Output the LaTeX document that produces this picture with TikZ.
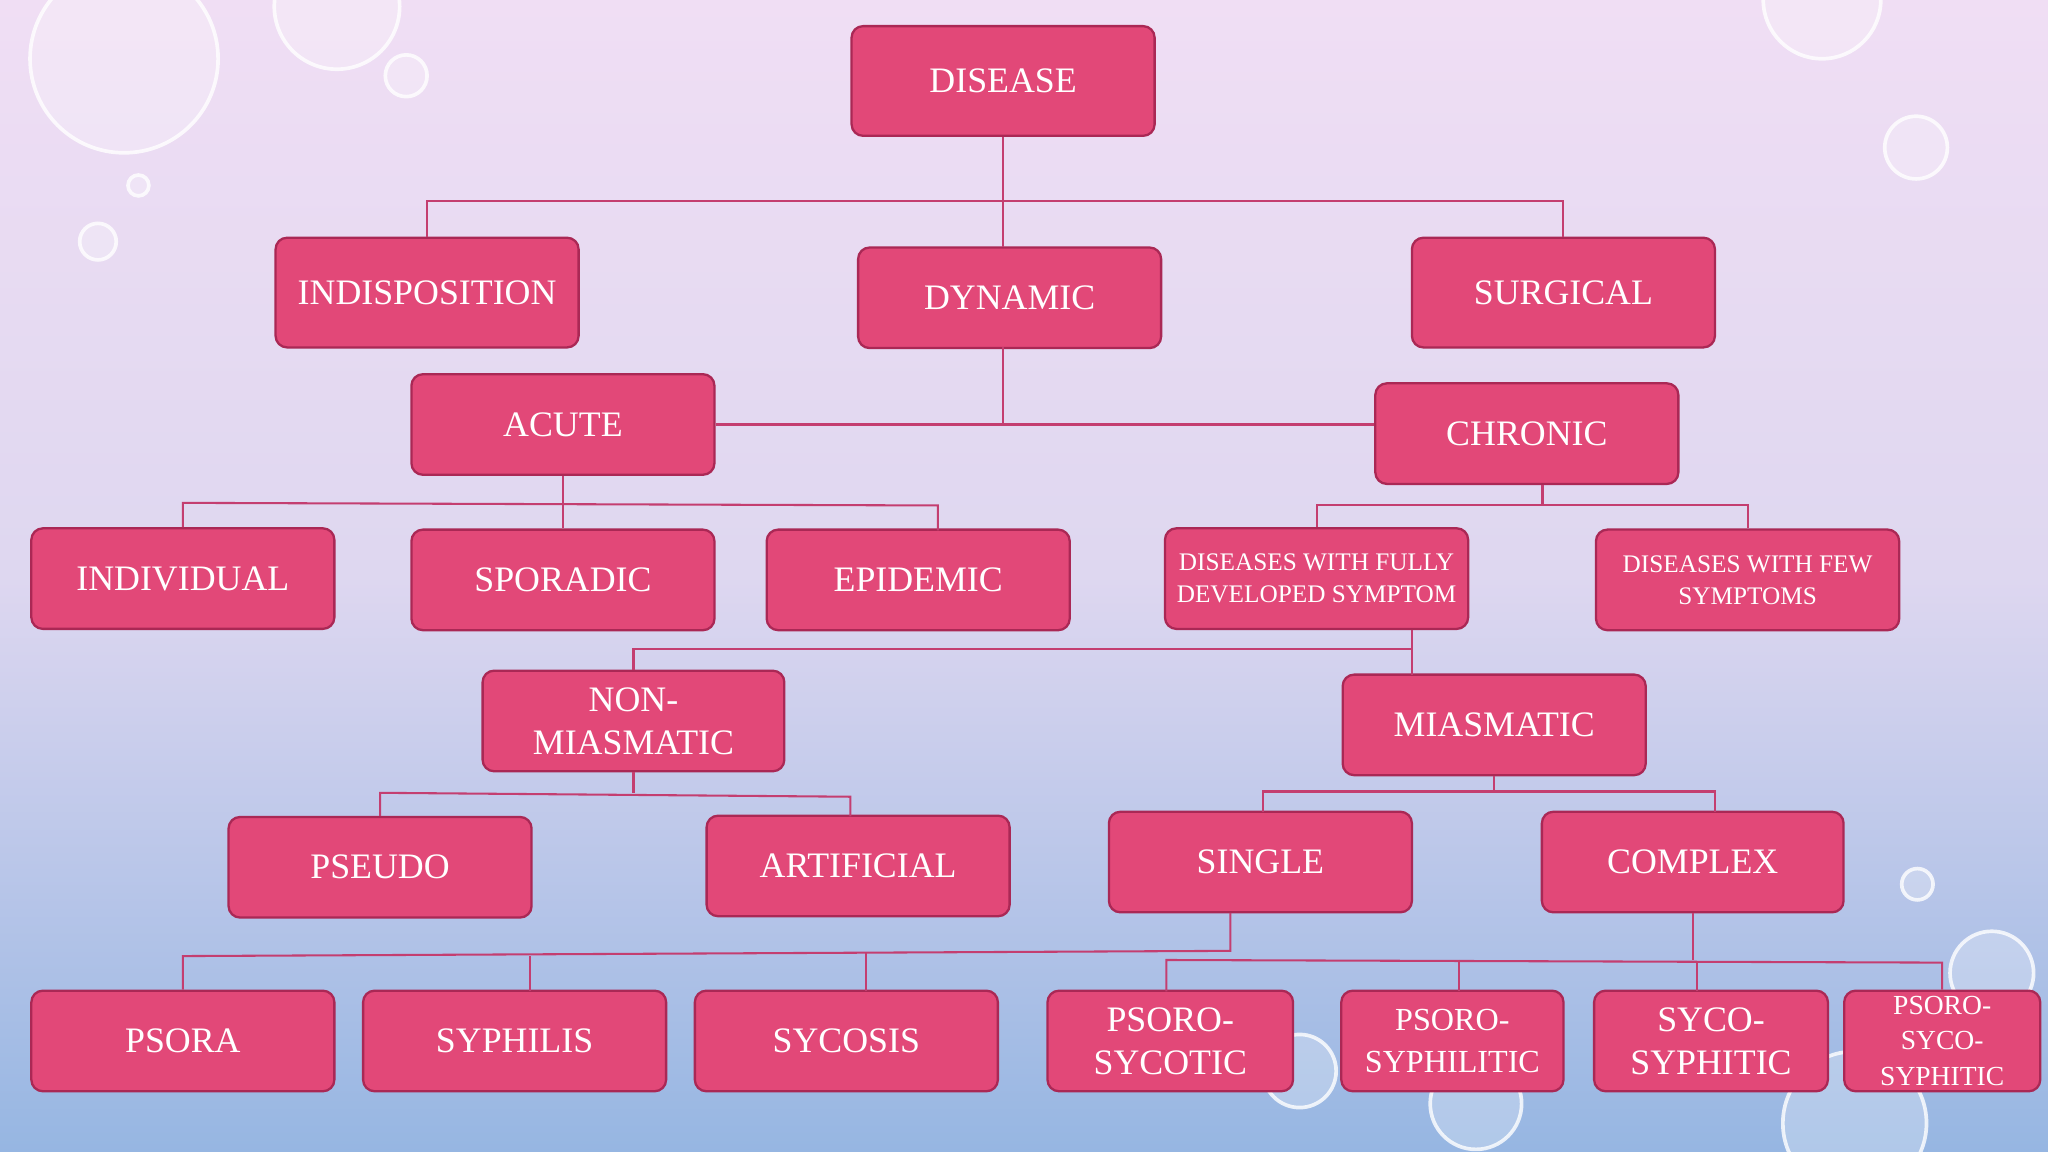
\documentclass[tikz,border=0pt]{standalone}
\usepackage{fontspec}
\setmainfont{Liberation Serif}
\definecolor{boxfill}{RGB}{226,72,120}
\definecolor{boxline}{RGB}{170,40,85}
\definecolor{conn}{RGB}{196,62,112}
\begin{document}
\begin{tikzpicture}[x=0.01cm,y=-0.01cm,
  bx/.style={draw=boxline,line width=0.5pt,fill=boxfill,rounded corners=2.5pt,text=white,align=center,inner sep=0pt,font=\fontsize{7.8}{9.4}\selectfont},
  cn/.style={draw=conn,line width=0.45pt},
  bub/.style={draw=white,fill=white,fill opacity=0.25,draw opacity=0.8,line width=0.8pt}]
\shade[top color={rgb,255:red,240;green,222;blue,244},bottom color={rgb,255:red,150;green,182;blue,226},middle color={rgb,255:red,222;green,215;blue,240}] (0,0) rectangle (1568,882);
\useasboundingbox (0,0) rectangle (1568,882);
% bubbles
\draw[bub] (95,45) circle (72);
\draw[bub] (258,5) circle (48);
\draw[bub] (311,58) circle (16);
\draw[bub] (106,142) circle (8);
\draw[bub] (75,185) circle (14);
\draw[bub] (1395,0) circle (45);
\draw[bub] (1467,113) circle (24);
\draw[bub] (1468,677) circle (12);
\draw[bub] (1525,745) circle (32);
\draw[bub] (1420,860) circle (55);
\draw[bub] (1130,845) circle (35);
\draw[bub] (995,820) circle (28);
% nodes: name, center, width, height, text
\newcommand{\bxn}[6]{\node[bx,minimum width=0.01cm*#4,minimum height=0.01cm*#5] (#1) at (#2,#3) {#6};}
\bxn{disease}{768}{62}{232}{84}{DISEASE}
\bxn{indis}{327}{224}{232}{84}{INDISPOSITION}
\bxn{dyn}{773}{228}{232}{77}{DYNAMIC}
\bxn{surg}{1197}{224}{232}{84}{SURGICAL}
\bxn{acute}{431}{325}{232}{77}{ACUTE}
\bxn{chronic}{1169}{332}{232}{77}{CHRONIC}
\bxn{indiv}{140}{443}{232}{77}{INDIVIDUAL}
\bxn{spor}{431}{444}{232}{77}{SPORADIC}
\bxn{epid}{703}{444}{232}{77}{EPIDEMIC}
\node[bx,minimum width=2.32cm,minimum height=0.77cm,font=\fontsize{5.5}{7}\selectfont] (full) at (1008,443) {DISEASES WITH FULLY\\DEVELOPED SYMPTOM};
\node[bx,minimum width=2.32cm,minimum height=0.77cm,font=\fontsize{5.5}{7}\selectfont] (few) at (1338,444) {DISEASES WITH FEW\\SYMPTOMS};
\bxn{nonm}{485}{552}{231}{77}{NON-\\MIASMATIC}
\bxn{miasm}{1144}{555}{232}{77}{MIASMATIC}
\bxn{pseudo}{291}{664}{232}{77}{PSEUDO}
\bxn{artif}{657}{663}{232}{77}{ARTIFICIAL}
\bxn{single}{965}{660}{232}{77}{SINGLE}
\bxn{complex}{1296}{660}{231}{77}{COMPLEX}
\bxn{psora}{140}{797}{232}{77}{PSORA}
\bxn{syph}{394}{797}{232}{77}{SYPHILIS}
\bxn{syco}{648}{797}{232}{77}{SYCOSIS}
\bxn{ps}{896}{797}{188}{77}{PSORO-\\SYCOTIC}
\node[bx,minimum width=1.70cm,minimum height=0.77cm,font=\fontsize{7}{9}\selectfont] (psy) at (1112,797) {PSORO-\\SYPHILITIC};
\bxn{sysy}{1310}{797}{179}{77}{SYCO-\\SYPHITIC}
\node[bx,minimum width=1.50cm,minimum height=0.77cm,font=\fontsize{6}{7.8}\selectfont] (pss) at (1487,797) {PSORO-\\SYCO-\\SYPHITIC};
% connectors
\draw[cn] (disease.south) -- (768,154);
\draw[cn] (indis.north) -- (327,154) -- (1197,154) -- (surg.north);
\draw[cn] (768,154) -- (768,189);
\draw[cn] (768,266) -- (768,325);
\draw[cn] (acute.east) -- (chronic.west |- acute.east);
\draw[cn] (acute.south) -- (431,385);
\draw[cn] (indiv.north) -- (140,385) -- (718,387) -- (718,406);
\draw[cn] (431,385) -- (spor.north);
\draw[cn] (1181,371) -- (1181,387);
\draw[cn] (full.north) -- (1008,387) -- (1338,387) -- (few.north);
\draw[cn] (1081,482) -- (1081,517);
\draw[cn] (nonm.north) -- (485,497) -- (1081,497);
\draw[cn] (nonm.south) -- (485,607);
\draw[cn] (pseudo.north) -- (291,607) -- (651,610) -- (651,625);
\draw[cn] (miasm.south) -- (1144,606);
\draw[cn] (967,622) -- (967,606) -- (1313,606) -- (1313,622);
\draw[cn] (942,699) -- (942,728) -- (140,732) -- (psora.north);
\draw[cn] (406,732) -- (406,759);
\draw[cn] (663,730) -- (663,759);
\draw[cn] (complex.south) -- (1296,735);
\draw[cn] (893,759) -- (893,735) -- (1487,737) -- (pss.north);
\draw[cn] (1117,735) -- (1117,759);
\draw[cn] (1299,736) -- (1299,759);
\end{tikzpicture}
\end{document}
